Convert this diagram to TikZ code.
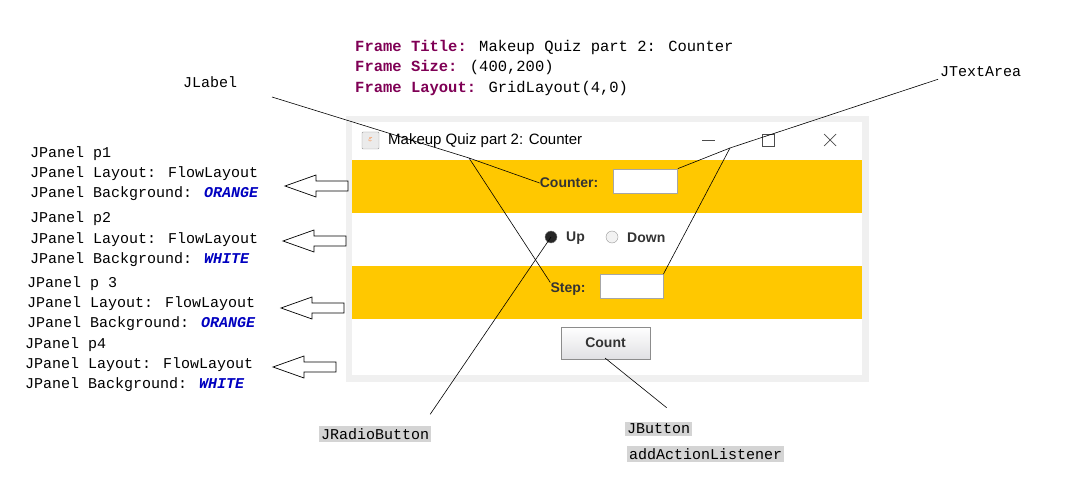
\documentclass[tikz,border=0pt]{standalone}
\usepackage{fontspec}
\setmainfont{Liberation Sans}
\newfontfamily\mono{Liberation Mono}
\usetikzlibrary{shadows}
\definecolor{swingorange}{RGB}{255,200,0}
\definecolor{kw}{RGB}{127,0,85}
\definecolor{enumblue}{RGB}{0,0,192}
\definecolor{hl}{RGB}{212,212,212}
\begin{document}
\begin{tikzpicture}[x=1pt,y=-1pt,
  mono/.style={font=\mono\fontsize{15}{18}\selectfont, anchor=west, inner sep=0pt},
  top/.style={font=\mono\fontsize{15.5}{18}\selectfont, anchor=west, inner sep=0pt},
  tag/.style={font=\mono\fontsize{15}{18}\selectfont, anchor=west, inner sep=2pt},
  gtag/.style={tag, fill=hl},
  ui/.style={font=\bfseries\fontsize{14}{16}\selectfont, text=black!80, inner sep=0pt},
  box/.style={draw=black!35, fill=white, line width=0.8pt},
  conn/.style={draw=black, line width=0.6pt},
  pics/harrow/.style={code={
    \draw[black, line width=0.7pt, fill=white] (0,0) -- (31,-11) -- (31,-5) -- (63,-5) -- (63,5) -- (31,5) -- (31,11) -- cycle;}}
]
\useasboundingbox (0,0) rectangle (1080,500);
% window
\fill[black!12] (349,119) rectangle (866,379);
\fill[black!6] (346,116) rectangle (869,382);
\fill[white] (352,122) rectangle (862,375);
\fill[swingorange] (352,160) rectangle (862,213);
\fill[swingorange] (352,266) rectangle (862,319);
% title bar
\draw[black!40, fill=black!8, rounded corners=1pt] (362,132) rectangle (379,149);
\node[inner sep=0pt, font=\bfseries\fontsize{9}{9}\selectfont, text=orange!80!red] at (370.5,140) {$\varepsilon$};
\node[font=\fontsize{15}{18}\selectfont, anchor=west, inner sep=0pt] (title) at (388,141) {Makeup Quiz part 2: Counter};
\draw[black!70, line width=0.7pt] (702,140) -- (715,140);
\draw[black!70, line width=0.7pt] (762,134) rectangle (774,146);
\draw[black!70, line width=0.7pt] (824,134) -- (836,146) (836,134) -- (824,146);
% components
\node[ui] (counter) at (569,183) {Counter:};
\node[box, minimum width=64pt, minimum height=24pt, inner sep=0pt] (ctext) at (645.5,181) {};
\node[draw=black!50, fill=black!85, circle, minimum size=12pt, inner sep=0pt] (up) at (551,237) {};
\node[ui, anchor=west] (uptxt) at (566,238) {Up};
\node[draw=black!40, fill=black!5, circle, minimum size=12pt, inner sep=0pt] (down) at (612,237) {};
\node[ui, anchor=west] (downtxt) at (627,238) {Down};
\node[ui] (step) at (568,289) {Step:};
\node[box, minimum width=63pt, minimum height=24pt, inner sep=0pt] (stext) at (631.5,286.5) {};
\node[draw=black!45, top color=white, bottom color=blue!10!black!12, minimum width=89pt, minimum height=32pt, inner sep=0pt, ui] (count) at (605.5,343) {Count};
% top text
\node[top] (t1) at (355,47) {\textcolor{kw}{\textbf{Frame Title:}} Makeup Quiz part 2: Counter};
\node[top] (t2) at (355,67) {\textcolor{kw}{\textbf{Frame Size:}} (400,200)};
\node[top] (t3) at (355,88) {\textcolor{kw}{\textbf{Frame Layout:}} GridLayout(4,0)};
% tags
\node[tag] (jlabel) at (181,82) {JLabel};
\node[tag] (jtext) at (938,72) {JTextArea};
\node[gtag] (jradio) at (319,434) {JRadioButton};
\node[gtag] (jbutton) at (625,429) {JButton};
\node[gtag] (jlisten) at (627,454) {addActionListener};
% left panel descriptions
\node[mono] (p1a) at (30,154) {JPanel p1};
\node[mono] (p1b) at (30,174) {JPanel Layout: FlowLayout};
\node[mono] (p1c) at (30,194) {JPanel Background: \textcolor{enumblue}{\textbf{\textit{ORANGE}}}};
\node[mono] (p2a) at (30,219) {JPanel p2};
\node[mono] (p2b) at (30,240) {JPanel Layout: FlowLayout};
\node[mono] (p2c) at (30,260) {JPanel Background: \textcolor{enumblue}{\textbf{\textit{WHITE}}}};
\node[mono] (p3a) at (27,284) {JPanel p 3};
\node[mono] (p3b) at (27,304) {JPanel Layout: FlowLayout};
\node[mono] (p3c) at (27,324) {JPanel Background: \textcolor{enumblue}{\textbf{\textit{ORANGE}}}};
\node[mono] (p4a) at (25,345) {JPanel p4};
\node[mono] (p4b) at (25,365) {JPanel Layout: FlowLayout};
\node[mono] (p4c) at (25,385) {JPanel Background: \textcolor{enumblue}{\textbf{\textit{WHITE}}}};
% hollow arrows
\pic at (285,186) {harrow};
\pic at (283,241) {harrow};
\pic at (281,308) {harrow};
\pic at (273,367) {harrow};
% connectors
\coordinate (lb) at (469,158);
\coordinate (tb) at (730,148);
\draw[conn] (272,97) -- (lb) -- (counter.west);
\draw[conn] (lb) -- (step.north west);
\draw[conn] (jtext.south west) -- (tb) -- (ctext.north east);
\draw[conn] (tb) -- (stext.north east);
\draw[conn] (jradio.north) ++(55,-12) -- (up.center);
\draw[conn] (jbutton.north) ++(8,-14) -- (605,358);
\end{tikzpicture}
\end{document}
